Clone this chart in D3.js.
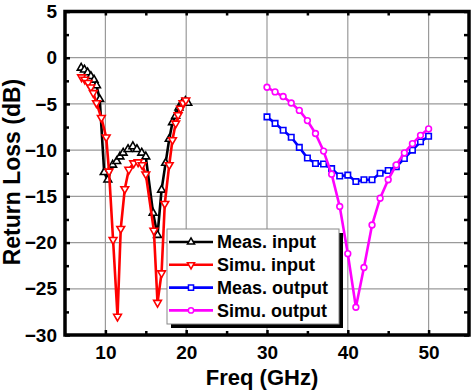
<!DOCTYPE html>
<html>
<head>
<meta charset="utf-8">
<script src="https://cdn.jsdelivr.net/npm/d3@7"></script>
<style>
  body { margin: 0; background: #fff; }
  text { font-family: "Liberation Sans", Arial, sans-serif; font-weight: bold; }
</style>
</head>
<body>
<svg id="chart" width="474" height="391"></svg>
<script>
// Data
const measInFreq = [7.0, 7.4, 7.8, 8.2, 8.6, 8.9, 9.3, 9.85, 10.3, 10.9, 11.4, 11.8, 12.2, 12.8, 13.4, 13.9, 14.5, 15.0, 15.9, 16.45, 16.95, 17.45, 17.9, 18.3, 18.7, 19.1, 19.5, 19.9, 20.2];
const measInLoss = [-1.1, -1.3, -1.6, -2.0, -2.4, -3.0, -4.5, -12.4, -13.2, -11.6, -11.2, -10.7, -10.3, -9.9, -9.6, -9.9, -10.3, -10.7, -16.8, -19.2, -14.3, -11.4, -8.8, -7.0, -6.3, -5.4, -4.9, -4.7, -4.9];

const simInFreq = [7.05, 7.45, 7.85, 8.2, 8.5, 8.9, 9.5, 10.1, 10.45, 10.95, 11.5, 11.9, 12.4, 12.9, 13.5, 14.05, 14.55, 15.0, 16.0, 16.45, 16.95, 17.35, 17.9, 18.3, 18.7, 19.0, 19.3, 19.6, 19.95];
const simInLoss = [-2.1, -2.35, -2.7, -3.2, -3.8, -4.9, -6.5, -8.6, -12.3, -19.7, -28.0, -18.5, -14.2, -12.1, -11.4, -11.3, -11.6, -12.6, -18.7, -26.5, -23.3, -15.8, -11.6, -8.9, -7.1, -6.2, -5.5, -4.9, -4.6];

const outFreq = [30, 31, 32, 33, 34, 35, 36, 37, 38, 39, 40, 41, 42, 43, 44, 45, 46, 47, 48, 49, 50];
const measOutLoss = [-6.4, -7.1, -7.85, -8.6, -9.7, -10.85, -11.45, -11.5, -12.0, -12.8, -12.7, -13.4, -13.2, -13.2, -12.5, -12.2, -11.8, -10.9, -10.0, -9.1, -8.5];
const simOutLoss = [-3.2, -3.7, -4.2, -4.9, -5.7, -6.8, -8.2, -10.1, -12.6, -16.1, -21.2, -27.0, -22.7, -18.1, -15.2, -13.2, -11.6, -10.3, -9.3, -8.4, -7.7];

const seriesNames = ['Meas. input', 'Simu. input', 'Meas. output', 'Simu. output'];
const seriesColors = ['#000000', '#ff0000', '#0000ff', '#ff00ff'];

const xMajor = [10, 20, 30, 40, 50];
const xMinor = [15, 25, 35, 45];
const yMajor = [5, 0, -5, -10, -15, -20, -25, -30];
const yMinor = [2.5, -2.5, -7.5, -12.5, -17.5, -22.5, -27.5];

const series = [
  { freq: measInFreq, loss: measInLoss, symbol: d3.symbolTriangle, rotate: 0 },
  { freq: simInFreq, loss: simInLoss, symbol: d3.symbolTriangle, rotate: 180 },
  { freq: outFreq, loss: measOutLoss, symbol: d3.symbolSquare, rotate: 0 },
  { freq: outFreq, loss: simOutLoss, symbol: d3.symbolCircle, rotate: 0 }
].map((s, i) => ({ ...s, name: seriesNames[i], color: seriesColors[i] }));

const svg = d3.select('#chart');
const margin = { top: 11.5, right: 5, bottom: 56, left: 65 };
const width = 474 - margin.left - margin.right;
const height = 391 - margin.top - margin.bottom;

const x = d3.scaleLinear().domain([5, 55]).range([0, width]);
const y = d3.scaleLinear().domain([-30, 5]).range([height, 0]);

const g = svg.append('g').attr('transform', `translate(${margin.left},${margin.top})`);

// grid lines
g.append('g')
  .selectAll('line.vgrid')
  .data(xMajor)
  .enter()
  .append('line')
  .attr('x1', d => x(d)).attr('x2', d => x(d))
  .attr('y1', 0).attr('y2', height)
  .attr('stroke', '#9a9a9a').attr('stroke-width', 1.2);

g.append('g')
  .selectAll('line.hgrid')
  .data(yMajor.filter(d => d < 5 && d > -30))
  .enter()
  .append('line')
  .attr('x1', 0).attr('x2', width)
  .attr('y1', d => y(d)).attr('y2', d => y(d))
  .attr('stroke', '#9a9a9a').attr('stroke-width', 1.2);

// axes with inward ticks
const styleAxis = (sel) => {
  sel.select('.domain').remove();
  sel.selectAll('.tick line').attr('stroke', '#000').attr('stroke-width', 2.5);
  sel.selectAll('text').attr('fill', '#000').style('font-size', '19px').style('font-weight', 'bold')
    .style('font-family', '"Liberation Sans", Arial, sans-serif');
};

g.append('g').attr('transform', `translate(0,${height})`)
  .call(d3.axisBottom(x).tickValues(xMajor).tickSize(-5).tickPadding(11).tickFormat(d3.format('d')))
  .call(styleAxis);
g.append('g').attr('transform', `translate(0,${height})`)
  .call(d3.axisBottom(x).tickValues(xMinor).tickSize(-4).tickFormat(''))
  .call(styleAxis);
g.append('g')
  .call(d3.axisTop(x).tickValues(xMajor.concat(xMinor)).tickSize(-4).tickFormat(''))
  .call(styleAxis);

g.append('g')
  .call(d3.axisLeft(y).tickValues(yMajor).tickSize(-5).tickPadding(8).tickFormat(d3.format('d')))
  .call(styleAxis);
g.append('g')
  .call(d3.axisLeft(y).tickValues(yMinor).tickSize(-4).tickFormat(''))
  .call(styleAxis);
g.append('g').attr('transform', `translate(${width},0)`)
  .call(d3.axisRight(y).tickValues(yMajor.concat(yMinor)).tickSize(-5).tickFormat(''))
  .call(styleAxis);

// frame
g.append('rect')
  .attr('x', 0).attr('y', 0).attr('width', width).attr('height', height)
  .attr('fill', 'none').attr('stroke', '#000').attr('stroke-width', 3.5);

// series lines and markers
const line = d3.line().x(d => x(d[0])).y(d => y(d[1]));

series.forEach(s => {
  const pts = s.freq.map((f, i) => [f, s.loss[i]]);
  g.append('path')
    .datum(pts)
    .attr('d', line)
    .attr('fill', 'none')
    .attr('stroke', s.color)
    .attr('stroke-width', 2.6)
    .attr('stroke-linejoin', 'round');
  g.append('g')
    .selectAll('path')
    .data(pts)
    .enter()
    .append('path')
    .attr('d', d3.symbol().type(s.symbol).size(s.symbol === d3.symbolSquare ? 30 : 26))
    .attr('transform', d => `translate(${x(d[0])},${y(d[1])}) rotate(${s.rotate})`)
    .attr('fill', '#fff')
    .attr('stroke', s.color)
    .attr('stroke-width', 1.6);
});

// legend
const legend = svg.append('g').attr('transform', 'translate(167,229)');
const lw = 172, lh = 95;
legend.append('rect')
  .attr('x', 4).attr('y', 4).attr('width', lw).attr('height', lh)
  .attr('fill', '#000');
legend.append('rect')
  .attr('x', 0).attr('y', 0).attr('width', lw).attr('height', lh)
  .attr('fill', '#fff').attr('stroke', '#888').attr('stroke-width', 1);

series.forEach((s, i) => {
  const ly = 13 + i * 22.8;
  legend.append('line')
    .attr('x1', 2).attr('x2', 46).attr('y1', ly).attr('y2', ly)
    .attr('stroke', s.color).attr('stroke-width', 2.6);
  legend.append('path')
    .attr('d', d3.symbol().type(s.symbol).size(s.symbol === d3.symbolSquare ? 26 : 22))
    .attr('transform', `translate(24,${ly}) rotate(${s.rotate})`)
    .attr('fill', '#fff').attr('stroke', s.color).attr('stroke-width', 1.5);
  legend.append('text')
    .attr('x', 50).attr('y', ly).attr('dy', '0.36em')
    .style('font-size', '18px')
    .text(s.name);
});

// axis titles
svg.append('text')
  .attr('x', 262).attr('y', 384.5)
  .attr('text-anchor', 'middle')
  .style('font-size', '22px')
  .text('Freq (GHz)');

svg.append('text')
  .attr('transform', 'translate(20,172) rotate(-90)')
  .attr('text-anchor', 'middle')
  .style('font-size', '23px')
  .text('Return Loss (dB)');
</script>
</body>
</html>
